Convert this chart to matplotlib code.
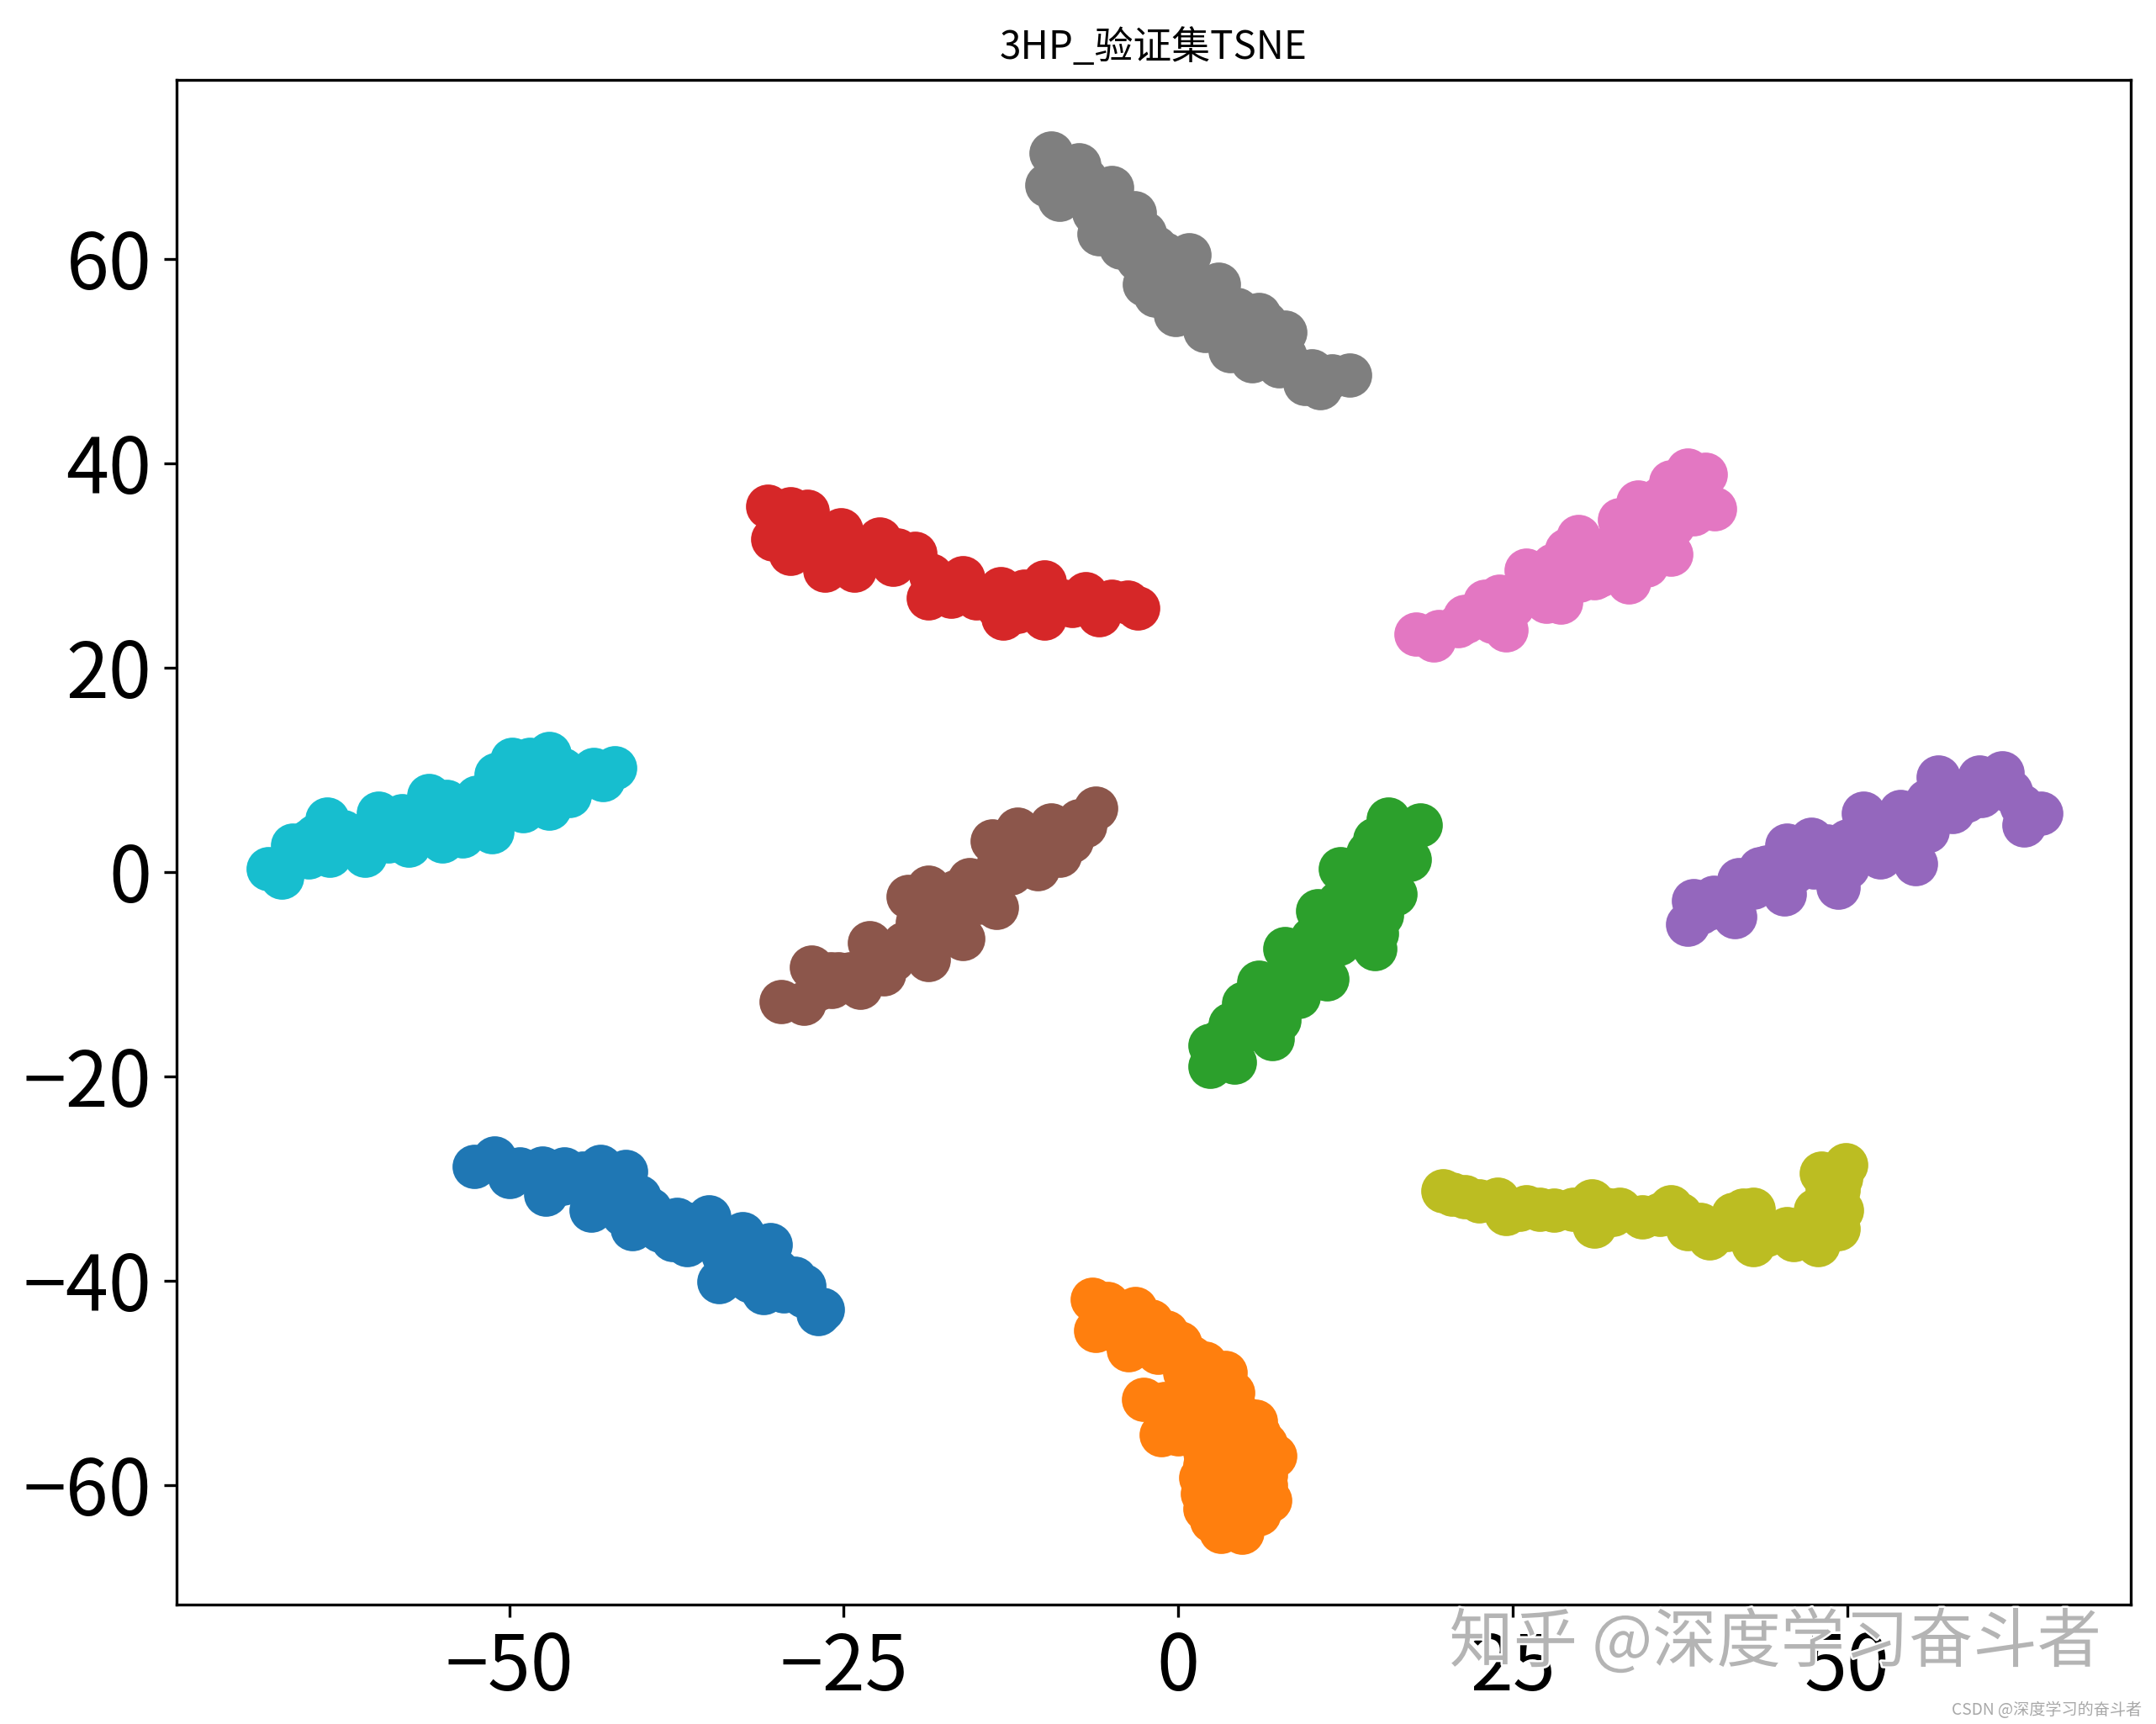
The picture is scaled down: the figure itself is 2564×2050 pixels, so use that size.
import matplotlib
matplotlib.use('Agg')
import matplotlib.pyplot as plt
import matplotlib.patheffects as pe

plt.rcParams['font.family'] = ['Noto Sans CJK SC', 'DejaVu Sans']

# t-SNE clusters, values
x0 = [-52.6, -51.1, -49.2, -45.9, -47.3, -43.2, -41.3, -43.9, -40.8, -38.7, -35.1, -34.3, -32.6, -30.5, -31.0, -28.7, -26.9, -26.6, -28.0, -40.3, -36.7, -43.4, -32.6,
      -50, -47.5, -46, -44.5, -42.5, -42, -41.5, -39.5, -37.5, -36.5, -35, -34, -33.5, -31.5, -30, -29.5, -28, -32, -37.8]
y0 = [-28.8, -28.0, -29.1, -29.1, -31.5, -28.8, -29.3, -33.1, -34.9, -35.1, -33.8, -40.1, -35.4, -36.5, -41.2, -39.8, -43.2, -42.8, -40.5, -31.8, -36.5, -31.1, -38.5,
      -29.8, -29, -30.5, -29.5, -30, -31.5, -33.5, -33, -34, -34.5, -36, -37.5, -39.5, -37.5, -39, -41, -41.5, -40, -36]

x1 = [-6.4, -5.3, -6.2, -3.7, -3.2, -0.9, 0.1, 2.0, 3.5, -2.6, -1.3, 4.1, 5.8, 7.2, 6.85, 1.7, 2.0, 3.2, 4.75, 6.0, 5.6, -0.1, 2.0, 3.7, 1.0, 5.4, -2.2,
      -5, -4.5, -2, -1.5, 1, 0.5, 2, 3, 1, -1, 0, 1, 3, 5, 6, 6.5, 2, 1.8, 2.5, 3.5, 2.5, 4.5, 6.5, 6.5, 6, 4.2,
      3.5, 2.6, 5.2, 4.8, -4, -3.5]
y1 = [-41.8, -42.2, -44.9, -46.8, -42.7, -45.0, -46.1, -48.1, -49.0, -51.6, -55.1, -51.0, -53.8, -57.1, -61.5, -59.3, -62.3, -64.5, -64.6, -62.8, -59.0, -53.2, -56.8, -56.2, -50.5, -56.0, -45.8,
      -44, -45, -44, -47, -47.5, -49, -50, -52, -52, -52, -55, -55, -54, -53.5, -55, -56, -58, -60.8, -63.5, -63.5, -58.5, -57, -59, -60, -62.5, -63.2,
      -62.2, -60.5, -61, -61.8, -43.5, -45]

x2 = [2.4, 2.4, 3.9, 4.2, 7.0, 4.9, 6.0, 9.0, 11.1, 8.0, 10.4, 12.1, 14.7, 15.2, 15.7, 18.1, 17.3, 14.2, 15.5, 13.2, 10.1, 16.2, 14.7, 7.5,
      3.2, 5, 6, 7.5, 8.5, 9.5, 10, 11.5, 12, 13.5, 13, 14.5, 15, 16, 16, 14.8, 12, 7.5]
y2 = [-19.0, -17.0, -14.9, -18.6, -16.3, -12.9, -10.8, -12.2, -10.5, -7.5, -3.8, 0.3, -7.5, -4.2, 5.2, 4.6, 1.2, 1.9, -0.8, -5.1, -8.2, -2.2, 3.2, -12.9,
      -16.5, -15.5, -14, -11.5, -10, -9, -6.5, -5.5, -3, -3, -0.5, -0.5, 1, 1, 3, -6, -7, -14.5]

x3 = [-30.7, -29.0, -27.7, -30.3, -29.0, -26.4, -24.2, -25.2, -22.3, -19.7, -18.7, -16.1, -13.1, -13.3, -10.0, -10.0, -11.5, -6.9, -5.9, -3.8, -3.0, -21.3, -17.2, -15.1, -28.5, -7.9,
      -28, -26.5, -25, -23, -21, -18.5, -17, -14.5, -13.5, -11.5, -8.5, -6.5, -5, -12, -24.5, -29.5]
y3 = [35.8, 35.5, 35.3, 32.6, 31.2, 29.5, 29.5, 33.5, 32.6, 31.2, 26.8, 28.8, 24.8, 27.7, 28.4, 24.8, 26.1, 27.2, 25.2, 26.4, 25.8, 30.1, 27.5, 26.8, 33.5, 26.1,
      33, 31.5, 31, 31, 31.5, 29, 27, 27, 26, 27.5, 26.5, 26, 26.5, 25.5, 31.5, 34]

x4 = [38.1, 38.5, 41.9, 41.6, 45.3, 45.5, 47.3, 49.3, 51.2, 54.0, 55.1, 56.8, 59.9, 61.6, 63.2, 64.5, 57.9, 39.9, 43.5, 50.7, 54.3, 58.9, 62.2, 46.6,
      39, 40, 41, 43, 44, 44, 46, 47.5, 48, 48.5, 50, 50, 52, 53, 52.5, 55, 56, 56, 58, 60, 63, 54]
y4 = [-5.1, -2.8, -0.8, -4.4, -2.2, 2.6, 3.2, -1.5, 5.7, 5.9, 0.8, 9.3, 9.3, 9.7, 4.6, 5.7, 5.9, -3.5, 0.3, 1.9, 3.9, 7.0, 7.9, 0.5,
      -4, -2.5, -3, -1.5, -1, 0.5, 0, 0.5, 1.5, 2.5, 3, 0.5, 2.5, 4, 1.5, 5.5, 4, 7, 8, 7.5, 6.5, 2]

x5 = [-29.7, -28.0, -27.4, -25.9, -23.8, -23.1, -21.3, -18.7, -20.2, -18.7, -16.1, -16.6, -13.9, -12.0, -10.5, -8.9, -9.5, -7.4, -6.2, -13.6, -22.3, -25.4, -15.6, -12.5, -8.4, -18.2,
      -27, -26, -24.5, -23, -22, -20.5, -19.5, -19.5, -18, -17.5, -16.5, -15, -14.5, -13.5, -12, -11, -10.5, -8, -7]
y5 = [-12.7, -12.9, -9.3, -11.2, -11.3, -6.9, -8.6, -8.6, -2.4, -1.5, -6.5, -1.9, 3.0, 4.2, 0.3, 1.6, 4.6, 5.0, 6.2, -3.5, -8.2, -10.0, -0.8, -0.1, 3.5, -4.8,
      -11.5, -10, -10, -9.5, -10, -7, -7, -5, -6.5, -3.5, -4, -3, -1, 0.5, 1.5, 3, 2, 3, 4.5]

x6 = [17.8, 19.1, 20.9, 24.5, 22.9, 26.0, 25.0, 28.6, 29.9, 29.6, 27.5, 33.7, 36.8, 34.4, 31.7, 38.1, 39.4, 40.1, 37.8, 35.8, 33.2, 31.1, 32.2, 36.8,
      19.5, 21.5, 23, 24, 25.5, 26.5, 27.5, 28, 29, 30, 31.5, 32.5, 34, 35, 36, 37, 35, 38.5, 36, 38.5, 33,
      21.4, 23.5, 28, 29]
y6 = [23.3, 22.7, 24.1, 23.7, 26.5, 29.5, 26.1, 26.4, 32.8, 30.8, 28.1, 28.4, 31.1, 36.2, 31.5, 39.3, 38.9, 35.5, 36.6, 35.3, 32.2, 28.8, 30.1, 38.2,
      23.5, 24.5, 25, 27, 27.5, 27.5, 26.5, 29.5, 29, 28.5, 29, 31, 31, 33, 33.5, 34, 30, 36.5, 36.5, 35, 34.5,
      25, 24.5, 30, 31.5]

x7 = [-9.5, -7.4, -9.8, -8.9, -6.9, -5.3, -3.3, -5.9, -4.3, -1.7, 0.8, -0.2, -1.7, 1.3, 2.4, 4.4, 6.5, 8.0, 4.9, 3.9, 7.0, 9.0, 10.6, 12.8, 11.1, -3.8, 0.3,
      -7.5, -6.3, -4.5, -2.5, -0.5, -3, -0.5, 1, 3, 3.5, 5.5, 6, 8, 10, 11.5, 9.5, -2.5, -8, -0.2, 7.5, 5.5, 2,
      -5, -3.3, -1, 1.3, 5]
y7 = [70.3, 69.2, 67.2, 65.8, 67.8, 65.1, 64.5, 62.4, 61.1, 61.1, 60.4, 57.7, 56.4, 57.7, 55.0, 55.0, 53.7, 52.8, 51.7, 51.0, 50.1, 49.0, 47.4, 48.6, 48.3, 62.4, 55.0,
      66.5, 64.5, 64, 62.5, 60, 60, 59, 56, 57.5, 53, 52.5, 54.5, 50.5, 49, 48.5, 47.8, 57.5, 68, 54.5, 49.5, 50, 53,
      67, 63.1, 60.5, 54.6, 53.5]

x8 = [19.8, 21.4, 23.9, 24.5, 28.1, 30.9, 31.1, 34.7, 38.1, 39.7, 42.2, 45.5, 43.0, 47.8, 49.3, 49.6, 48.1, 49.9, 49.3, 47.6, 26.0, 36.8,
      20.5, 22.5, 25.5, 27, 29.5, 32.5, 33, 36, 37.5, 39, 41, 41.5, 44, 46, 47, 48.5, 48.5, 49.5, 43, 32]
y8 = [-31.2, -31.8, -32.0, -33.4, -33.1, -32.2, -34.7, -33.8, -34.9, -35.8, -33.1, -34.9, -36.5, -36.5, -34.9, -33.1, -29.5, -28.7, -31.1, -33.1, -32.8, -32.8,
      -31.5, -32.2, -33, -33, -33, -33.5, -33, -33.5, -33.5, -34.5, -35, -33.5, -35.5, -36, -35, -33, -31, -30, -33, -33]

x9 = [-68.0, -67.0, -66.2, -63.6, -63.4, -60.8, -59.8, -57.5, -56.0, -55.0, -54.7, -51.3, -49.8, -47.0, -47.0, -50.3, -52.4, -43.7, -42.1, -44.9, -60.3, -65.0, -53.1, -48.5, -62.4, -57.2,
      -66.5, -65, -64.5, -62, -61.5, -59, -58.5, -56, -55, -53.5, -52, -50.5, -49, -49, -48, -46, -46, -45.5, -48.5, -51, -43, -58]
y9 = [0.3, -0.5, 2.6, 5.2, 1.6, 1.6, 5.7, 2.6, 7.5, 3.0, 6.9, 3.9, 11.0, 11.6, 6.2, 8.6, 7.3, 10.0, 10.2, 8.9, 3.9, 3.0, 5.2, 7.9, 3.9, 4.6,
      1, 1.5, 3.5, 3, 3.5, 3, 4, 4, 5, 3.5, 5.5, 6, 6, 9, 9, 8.5, 10, 7.5, 11, 9.5, 9, 5.5]

xs = [x0, x1, x2, x3, x4, x5, x6, x7, x8, x9]
ys = [y0, y1, y2, y3, y4, y5, y6, y7, y8, y9]

fig = plt.figure(figsize=(2564 / 300, 2050 / 300), dpi=300)
ax = fig.add_axes([209.5 / 2564, 1 - 1908 / 2050, 2324.5 / 2564, 1813 / 2050])

for i in range(10):
    ax.scatter(xs[i], ys[i], s=160, color='C%d' % i, linewidths=0)

ax.set_xlim(-74.9, 71.2)
ax.set_ylim(-71.7, 77.5)
ax.set_xticks([-50, -25, 0, 25, 50])
ax.set_yticks([-60, -40, -20, 0, 20, 40, 60])
ax.tick_params(labelsize=22)
ax.set_title('3HP_验证集TSNE', fontsize=11)

# watermarks on top of everything
fig.text(2499 / 2564, 1 - 1976 / 2050, '知乎 @深度学习奋斗者', fontsize=18.3, color='#b4b4b4',
         ha='right', va='baseline', zorder=10,
         path_effects=[pe.withStroke(linewidth=1.2, foreground='white')])
fig.text(2547 / 2564, 1 - 2039 / 2050, 'CSDN @深度学习的奋斗者', fontsize=4.6, color='#a8a8a8',
         ha='right', va='baseline')

fig.savefig('out.png', dpi=300)
